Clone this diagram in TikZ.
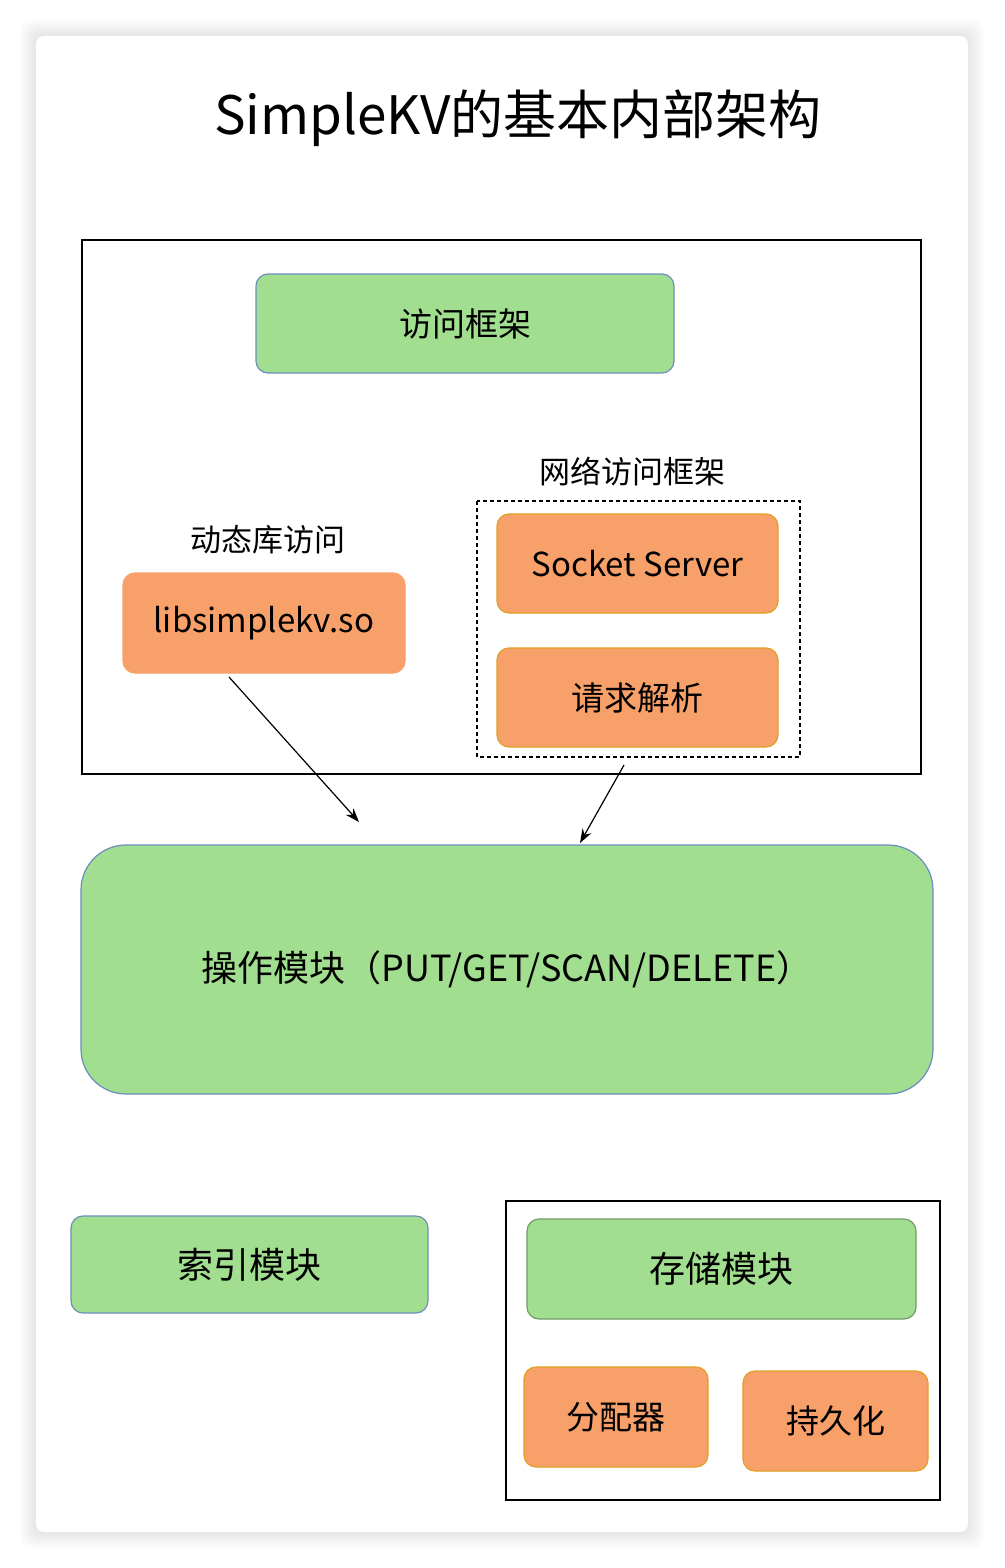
\documentclass[tikz,border=0pt]{standalone}
\usepackage{fontspec}
\setmainfont{Noto Sans CJK SC}
\usetikzlibrary{arrows.meta}
\definecolor{gfill}{HTML}{A2DE90}
\definecolor{gdraw}{HTML}{6C8EBF}
\definecolor{ofill}{HTML}{F8A06A}
\definecolor{odraw}{HTML}{E0A020}
\tikzset{
  gbox/.style={draw=gdraw,fill=gfill,rounded corners=12pt,line width=1.2pt},
  obox/.style={draw=odraw,fill=ofill,rounded corners=12pt,line width=1.2pt},
  lbl/.style={font=\fontsize{33}{40}\selectfont},
  arr/.style={-{Stealth[length=14pt,width=10pt]},line width=1.2pt}
}
\begin{document}
\begin{tikzpicture}[x=1pt,y=-1pt]
\useasboundingbox (0,0) rectangle (1004,1568);
\fill[white] (0,0) rectangle (1004,1568);
\foreach \i in {1,...,8}{\fill[black,opacity=0.012,rounded corners=10pt] (36-\i*2,36-\i*2) rectangle (968+\i*2,1532+\i*2);}
\fill[white,rounded corners=8pt] (36,36) rectangle (968,1532);
\node[font=\fontsize{53}{60}\selectfont] (title) at (518,118) {SimpleKV的基本内部架构};
\draw[line width=1.2pt] (82,240) rectangle (921,774);
\draw[gbox] (256,274) rectangle (674,373) node[midway,lbl] (fw) {访问框架};
\node[lbl,font=\fontsize{31}{38}\selectfont] (netl) at (632,472) {网络访问框架};
\draw[dash pattern=on 4pt off 3pt,line width=1.2pt] (477,501) rectangle (800,757);
\draw[obox] (497,514) rectangle (778,613) node[midway,lbl] (sock) {Socket Server};
\draw[obox] (497,648) rectangle (778,747) node[midway,lbl] (req) {请求解析};
\node[lbl,font=\fontsize{31}{38}\selectfont] (dynl) at (268,540) {动态库访问};
\draw[obox,draw=ofill] (123,573) rectangle (405,673) node[midway,lbl] (lib) {libsimplekv.so};
\draw[gbox,rounded corners=45pt] (81,845) rectangle (933,1094) node[midway,lbl,font=\fontsize{36}{42}\selectfont] (op) {操作模块（PUT/GET/SCAN/DELETE）};
\coordinate (a1s) at (229,677); \coordinate (a1e) at (359,822);
\coordinate (a2s) at (624,765); \coordinate (a2e) at (580,843);
\draw[arr] (a1s) -- (a1e);
\draw[arr] (a2s) -- (a2e);
\draw[gbox] (71,1216) rectangle (428,1313) node[midway,lbl,font=\fontsize{36}{42}\selectfont] (idx) {索引模块};
\draw[line width=1.2pt] (506,1201) rectangle (940,1500);
\draw[gbox,draw=gfill!70!black] (527,1219) rectangle (916,1319) node[midway,lbl,font=\fontsize{36}{42}\selectfont] (store) {存储模块};
\draw[obox] (524,1367) rectangle (708,1467) node[midway,lbl] (alloc) {分配器};
\draw[obox] (743,1371) rectangle (928,1471) node[midway,lbl] (pers) {持久化};
\end{tikzpicture}
\end{document}
